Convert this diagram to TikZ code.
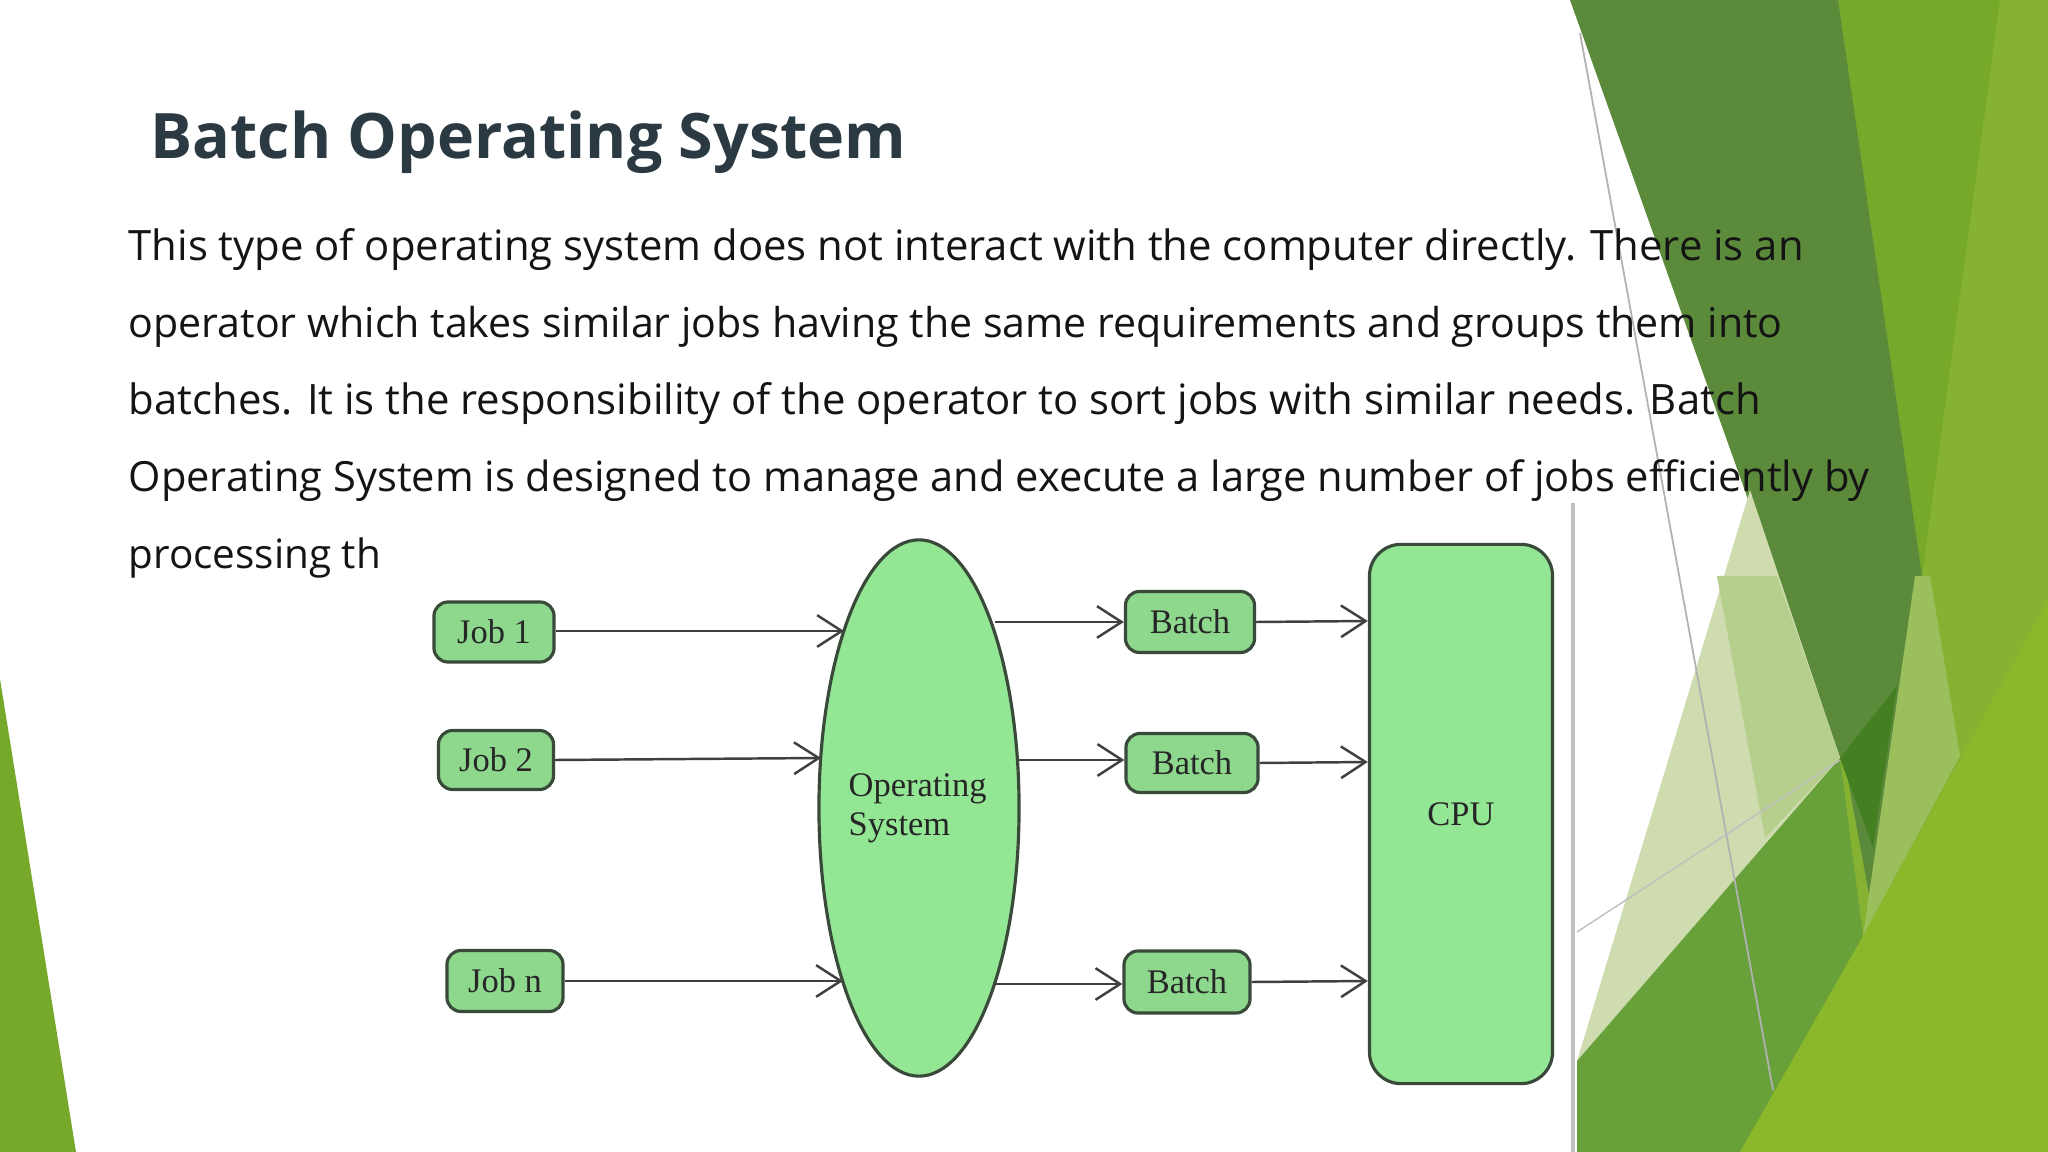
\documentclass[tikz,border=0pt]{standalone}
\usepackage{fontspec}
\setmainfont{Open Sans}
\newfontfamily\serifdiag{Liberation Serif}
\usetikzlibrary{shapes.geometric,arrows.meta}
\definecolor{gdark}{HTML}{5B8A3B}
\definecolor{gdarker}{HTML}{447F22}
\definecolor{golive}{HTML}{76A82A}
\definecolor{gright}{HTML}{86B232}
\definecolor{gpale}{HTML}{CFDCAF}
\definecolor{gpale2}{HTML}{B7CF8C}
\definecolor{gbot}{HTML}{68A03A}
\definecolor{gbright}{HTML}{8AB82A}
\definecolor{gmid}{HTML}{9ABF5C}
\definecolor{titlec}{HTML}{2B3A42}
\definecolor{boxfill}{HTML}{8ED88E}
\definecolor{bigfill}{HTML}{93E693}
\definecolor{edge}{HTML}{3A4A3A}
\begin{document}
\begin{tikzpicture}[x=0.01cm,y=-0.01cm,
  box/.style={draw=edge,line width=0.9pt,fill=boxfill,rounded corners=4pt,inner sep=0pt},
  lab/.style={font=\serifdiag\fontsize{9.8}{11}\selectfont,text=black!85},
  arr/.style={draw=black!75,line width=0.7pt,-{Straight Barb[length=7pt,width=9pt]}},
  body/.style={anchor=base west,inner sep=0pt,text=black!92,font=\fontsize{11.5}{14}\selectfont}]
\useasboundingbox (0,0) rectangle (2048,1152);
\fill[white] (0,0) rectangle (2048,1152);
% background decoration
\fill[gright] (1838,0) -- (2048,0) -- (2048,1152) -- (1700,1152) -- (1840,760) -- cycle;
\fill[golive] (1838,0) -- (2000,0) -- (1922,576) -- cycle;
\fill[gdark] (1570,0) -- (1838,0) -- (1922,576) -- (1870,900) -- (1848,780) -- cycle;
\fill[gmid] (1915,576) -- (1930,576) -- (1960,756) -- (1863,936) -- cycle;
\fill[gpale] (1750,490) -- (1577,1061) -- (1840,758) -- cycle;
\fill[gpale2] (1717,576) -- (1777,576) -- (1840,758) -- (1765,838) -- cycle;
\fill[gbot] (1577,1061) -- (1840,758) -- (1863,936) -- (1740,1152) -- (1577,1152) -- cycle;
\fill[gdarker] (1840,758) -- (1897,686) -- (1873,848) -- cycle;
\fill[gbright] (1740,1152) -- (1863,936) -- (2048,600) -- (2048,1152) -- cycle;
\fill[golive] (0,679) -- (0,1152) -- (76,1152) -- cycle;
\draw[black!30,line width=0.5pt] (1580,33) -- (1773,1090);
\draw[black!25,line width=0.4pt] (1577,932) -- (1840,760);
\draw[black!25,line width=1pt] (1573,503) -- (1573,1152);
% title and body
\node[anchor=base west,inner sep=0pt,text=titlec,font=\bfseries\fontsize{17}{20}\selectfont] (title) at (150,159) {\resizebox{7.55cm}{!}{Batch Operating System}};
\node[body] (l1) at (128,261) {\resizebox{16.74cm}{!}{This type of operating system does not interact with the computer directly. There is an}};
\node[body] (l2) at (128,338) {\resizebox{16.53cm}{!}{operator which takes similar jobs having the same requirements and groups them into}};
\node[body] (l3) at (128,415) {\resizebox{16.31cm}{!}{batches. It is the responsibility of the operator to sort jobs with similar needs. Batch}};
\node[body] (l4) at (128,492) {\resizebox{17.40cm}{!}{Operating System is designed to manage and execute a large number of jobs efficiently by}};
\node[body] (l5) at (128,569) {\resizebox{2.52cm}{!}{processing th}};
% diagram
\node[box,lab,minimum width=1.2cm,minimum height=0.6cm] (j1) at (494,632) {Job 1};
\node[box,lab,minimum width=1.15cm,minimum height=0.59cm] (j2) at (496,760) {Job 2};
\node[box,lab,minimum width=1.16cm,minimum height=0.61cm] (jn) at (505,981) {Job n};
\node[ellipse,draw=edge,line width=0.9pt,fill=bigfill,minimum width=2cm,minimum height=5.36cm,inner sep=0pt] (os) at (919,808) {};
\node[lab,anchor=west,align=left,inner sep=0pt] (ost) at (848,808) {Operating\\System};
\node[box,lab,minimum width=1.29cm,minimum height=0.61cm] (b1) at (1190,622) {Batch};
\node[box,lab,minimum width=1.32cm,minimum height=0.59cm] (b2) at (1192,763) {Batch};
\node[box,lab,minimum width=1.26cm,minimum height=0.62cm] (b3) at (1187,982) {Batch};
\node[draw=edge,line width=0.9pt,fill=bigfill,rounded corners=9pt,minimum width=1.83cm,minimum height=5.39cm,inner sep=0pt,lab] (cpu) at (1461,814) {CPU};
\coordinate (e1) at (844,631);
\coordinate (e2) at (821,758);
\coordinate (e3) at (843,981);
\coordinate (o1) at (995,622);
\coordinate (o2) at (1018,760);
\coordinate (o3) at (995,984);
\coordinate (c1) at (cpu.west |- 0,621);
\coordinate (c2) at (cpu.west |- 0,762);
\coordinate (c3) at (cpu.west |- 0,981);
\draw[arr] (j1.east |- e1) -- (e1);
\draw[arr] (j2.east) -- (e2);
\draw[arr] (jn.east) -- (e3);
\draw[arr] (o1) -- (b1.west |- o1);
\draw[arr] (o2) -- (b2.west |- o2);
\draw[arr] (o3) -- (b3.west |- o3);
\draw[arr] (b1.east) -- (c1);
\draw[arr] (b2.east) -- (c2);
\draw[arr] (b3.east) -- (c3);
\end{tikzpicture}
\end{document}
